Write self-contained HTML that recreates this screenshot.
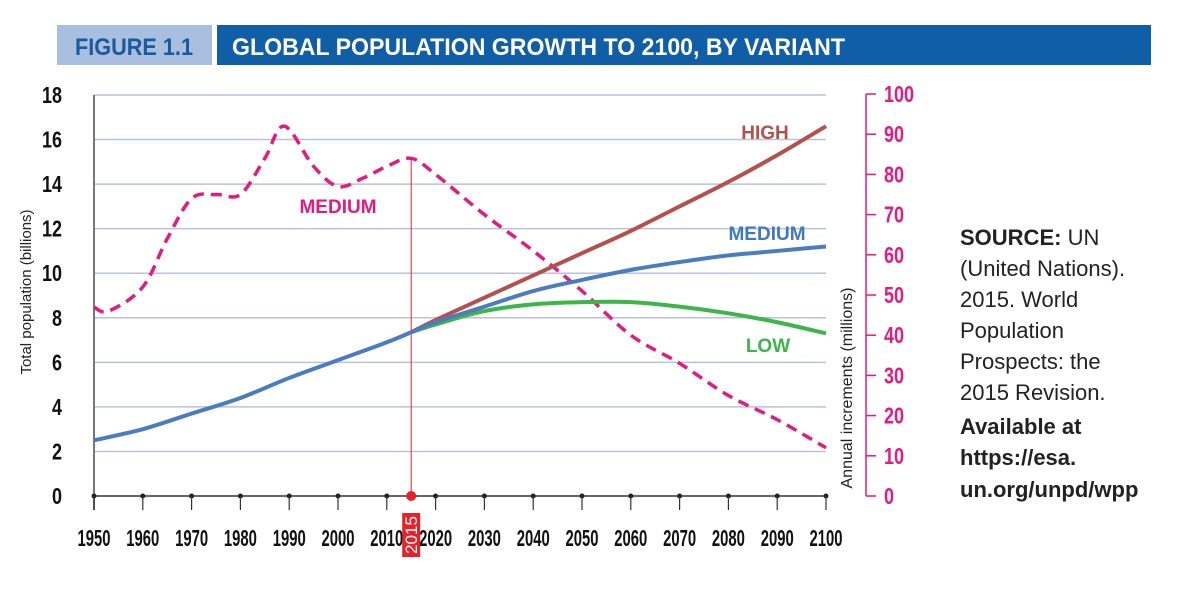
<!DOCTYPE html>
<html><head><meta charset="utf-8"><style>
body{margin:0;background:#fff;width:1200px;height:587px;overflow:hidden;font-family:"Liberation Sans",sans-serif}
</style></head><body>
<svg width="1200" height="587" xmlns="http://www.w3.org/2000/svg" id="chart">
<rect x="57" y="25" width="155" height="40" fill="#a9bfdf"/>
<text x="134" y="55" text-anchor="middle" font-size="24" font-weight="bold" fill="#1a5a9e" textLength="118" lengthAdjust="spacingAndGlyphs">FIGURE 1.1</text>
<rect x="217" y="25" width="934" height="40" fill="#0f5ea6"/>
<text x="232" y="55" font-size="24" font-weight="bold" fill="#fff" textLength="613" lengthAdjust="spacingAndGlyphs">GLOBAL POPULATION GROWTH TO 2100, BY VARIANT</text>
<g id="grid"></g><g id="axes"></g><g id="marks"></g>
<text transform="translate(31,292) rotate(-90)" text-anchor="middle" font-size="15" fill="#222">Total population (billions)</text>
<text transform="translate(852,388) rotate(-90)" text-anchor="middle" font-size="16" fill="#222">Annual increments (millions)</text>
<text x="765" y="139" text-anchor="middle" font-size="19" font-weight="bold" fill="#b5504d">HIGH</text>
<text x="767" y="240" text-anchor="middle" font-size="19" font-weight="bold" fill="#3f78c2">MEDIUM</text>
<text x="768" y="352" text-anchor="middle" font-size="19" font-weight="bold" fill="#3cb54a">LOW</text>
<text x="338" y="213" text-anchor="middle" font-size="19" font-weight="bold" fill="#e6197f">MEDIUM</text>
<g font-size="22" fill="#222">
<text x="960" y="245"><tspan font-weight="bold">SOURCE:</tspan> UN</text>
<text x="960" y="276">(United Nations).</text>
<text x="960" y="307">2015. World</text>
<text x="960" y="338">Population</text>
<text x="960" y="369">Prospects: the</text>
<text x="960" y="400">2015 Revision.</text>
<text x="960" y="434" font-weight="bold">Available at</text>
<text x="960" y="465" font-weight="bold">https://esa.</text>
<text x="960" y="497" font-weight="bold">un.org/unpd/wpp</text>
</g>
</svg>
<script>
const years=[1950,1960,1970,1980,1990,2000,2010,2015];
const histPop=[2.5,3.0,3.7,4.4,5.3,6.1,6.9,7.35];
const projYears=[2015,2020,2030,2040,2050,2060,2070,2080,2090,2100];
const mediumPop=[7.35,7.8,8.5,9.2,9.7,10.15,10.5,10.8,11.0,11.2];
const highPop=[7.35,7.9,8.9,9.9,10.9,11.9,13.0,14.1,15.3,16.6];
const lowPop=[7.35,7.7,8.3,8.6,8.7,8.7,8.5,8.2,7.8,7.3];
const incYears=[1950,1953,1960,1965,1970,1975,1980,1985,1989,1995,2000,2005,2010,2015,2020,2030,2040,2050,2060,2070,2080,2090,2100];
const incValues=[47,46,52,64,74,75,75,84,92,82,77,79,82,84,80,70,61,51,40,33,25,19,12];
const yTicks=[0,2,4,6,8,10,12,14,16,18];
const y2Ticks=[0,10,20,30,40,50,60,70,80,90,100];
const xTicks=[1950,1960,1970,1980,1990,2000,2010,2020,2030,2040,2050,2060,2070,2080,2090,2100];
const NS="http://www.w3.org/2000/svg";
const X=v=>94+(v-1950)*(826-94)/150;
const Y=v=>496-v*(496-95)/18;
const Y2=v=>496-v*(496-94)/100;
function mk(tag,attrs,parent){const e=document.createElementNS(NS,tag);for(const k in attrs)e.setAttribute(k,attrs[k]);document.getElementById(parent).appendChild(e);return e;}
function smooth(pts){let d="M"+pts[0][0]+","+pts[0][1];for(let i=0;i<pts.length-1;i++){const p0=pts[i-1]||pts[i],p1=pts[i],p2=pts[i+1],p3=pts[i+2]||p2;d+=" C"+(p1[0]+(p2[0]-p0[0])/6)+","+(p1[1]+(p2[1]-p0[1])/6)+" "+(p2[0]-(p3[0]-p1[0])/6)+","+(p2[1]-(p3[1]-p1[1])/6)+" "+p2[0]+","+p2[1];}return d;}
yTicks.forEach(t=>{
 if(t>0){const g=mk('line',{x1:94,x2:826,y1:Y(t),y2:Y(t),stroke:'#b9c1dd','stroke-width':1.5},'grid');
 
 }
 const l=mk('text',{x:62,y:Y(t)+8,'text-anchor':'end','font-size':23,'font-weight':'bold',fill:'#111',textLength:t>=10?20:10,lengthAdjust:'spacingAndGlyphs'},'axes');l.textContent=t;
 
 
});
mk('line',{x1:94,x2:94,y1:95,y2:510,stroke:'#777','stroke-width':2},'axes');
mk('line',{x1:94,x2:826,y1:496,y2:496,stroke:'#333','stroke-width':1.5},'axes');
mk('line',{x1:866,x2:866,y1:Y2(100),y2:Y2(0),stroke:'#e6197f','stroke-width':1.5},'axes');
y2Ticks.forEach(t=>{mk('line',{x1:866,x2:876,y1:Y2(t),y2:Y2(t),stroke:'#e6197f','stroke-width':1.5},'axes');
 const l=mk('text',{x:884,y:Y2(t)+8,'font-size':23,'font-weight':'bold',fill:'#e6197f',textLength:t>=100?30:(t>=10?20:10),lengthAdjust:'spacingAndGlyphs'},'axes');l.textContent=t;
 
 });
xTicks.forEach(t=>{mk('circle',{cx:X(t),cy:496,r:2.5,fill:'#222'},'axes');mk('line',{x1:X(t),x2:X(t),y1:496,y2:510,stroke:'#333','stroke-width':1.2},'axes');
 const l=mk('text',{x:X(t),y:546,'text-anchor':'middle','font-size':23,'font-weight':'bold',fill:'#111',textLength:33,lengthAdjust:'spacingAndGlyphs'},'axes');l.textContent=t;
 
 });
const x15=X(2015);
mk('line',{x1:x15,x2:x15,y1:Y(15.1),y2:496,stroke:'#e8202a','stroke-width':1},'marks');
mk('circle',{cx:x15,cy:496,r:5,fill:'#e8202a'},'marks');
mk('rect',{x:x15-9,y:513,width:18,height:44,fill:'#e8202a'},'axes');
const t15=mk('text',{transform:`translate(${x15+6},535) rotate(-90)`,'text-anchor':'middle','font-size':17,fill:'#fff',textLength:38,lengthAdjust:'spacingAndGlyphs'},'axes');t15.textContent='2015';


const inc=mk('path',{d:smooth(incYears.map((y,i)=>[X(y),Y2(incValues[i])])),fill:'none',stroke:'#e6197f','stroke-width':3.5,'stroke-dasharray':'11 7'},'marks');


const h=mk('path',{d:smooth(projYears.map((y,i)=>[X(y),Y(highPop[i])])),fill:'none',stroke:'#b5504d','stroke-width':4},'marks');


const lo=mk('path',{d:smooth(projYears.map((y,i)=>[X(y),Y(lowPop[i])])),fill:'none',stroke:'#3cb54a','stroke-width':4},'marks');


const me=mk('path',{d:smooth(projYears.map((y,i)=>[X(y),Y(mediumPop[i])])),fill:'none',stroke:'#4a7cc0','stroke-width':4},'marks');


const hi=mk('path',{d:smooth(years.map((y,i)=>[X(y),Y(histPop[i])])),fill:'none',stroke:'#4a7cc0','stroke-width':4},'marks');


</script>
</body></html>
